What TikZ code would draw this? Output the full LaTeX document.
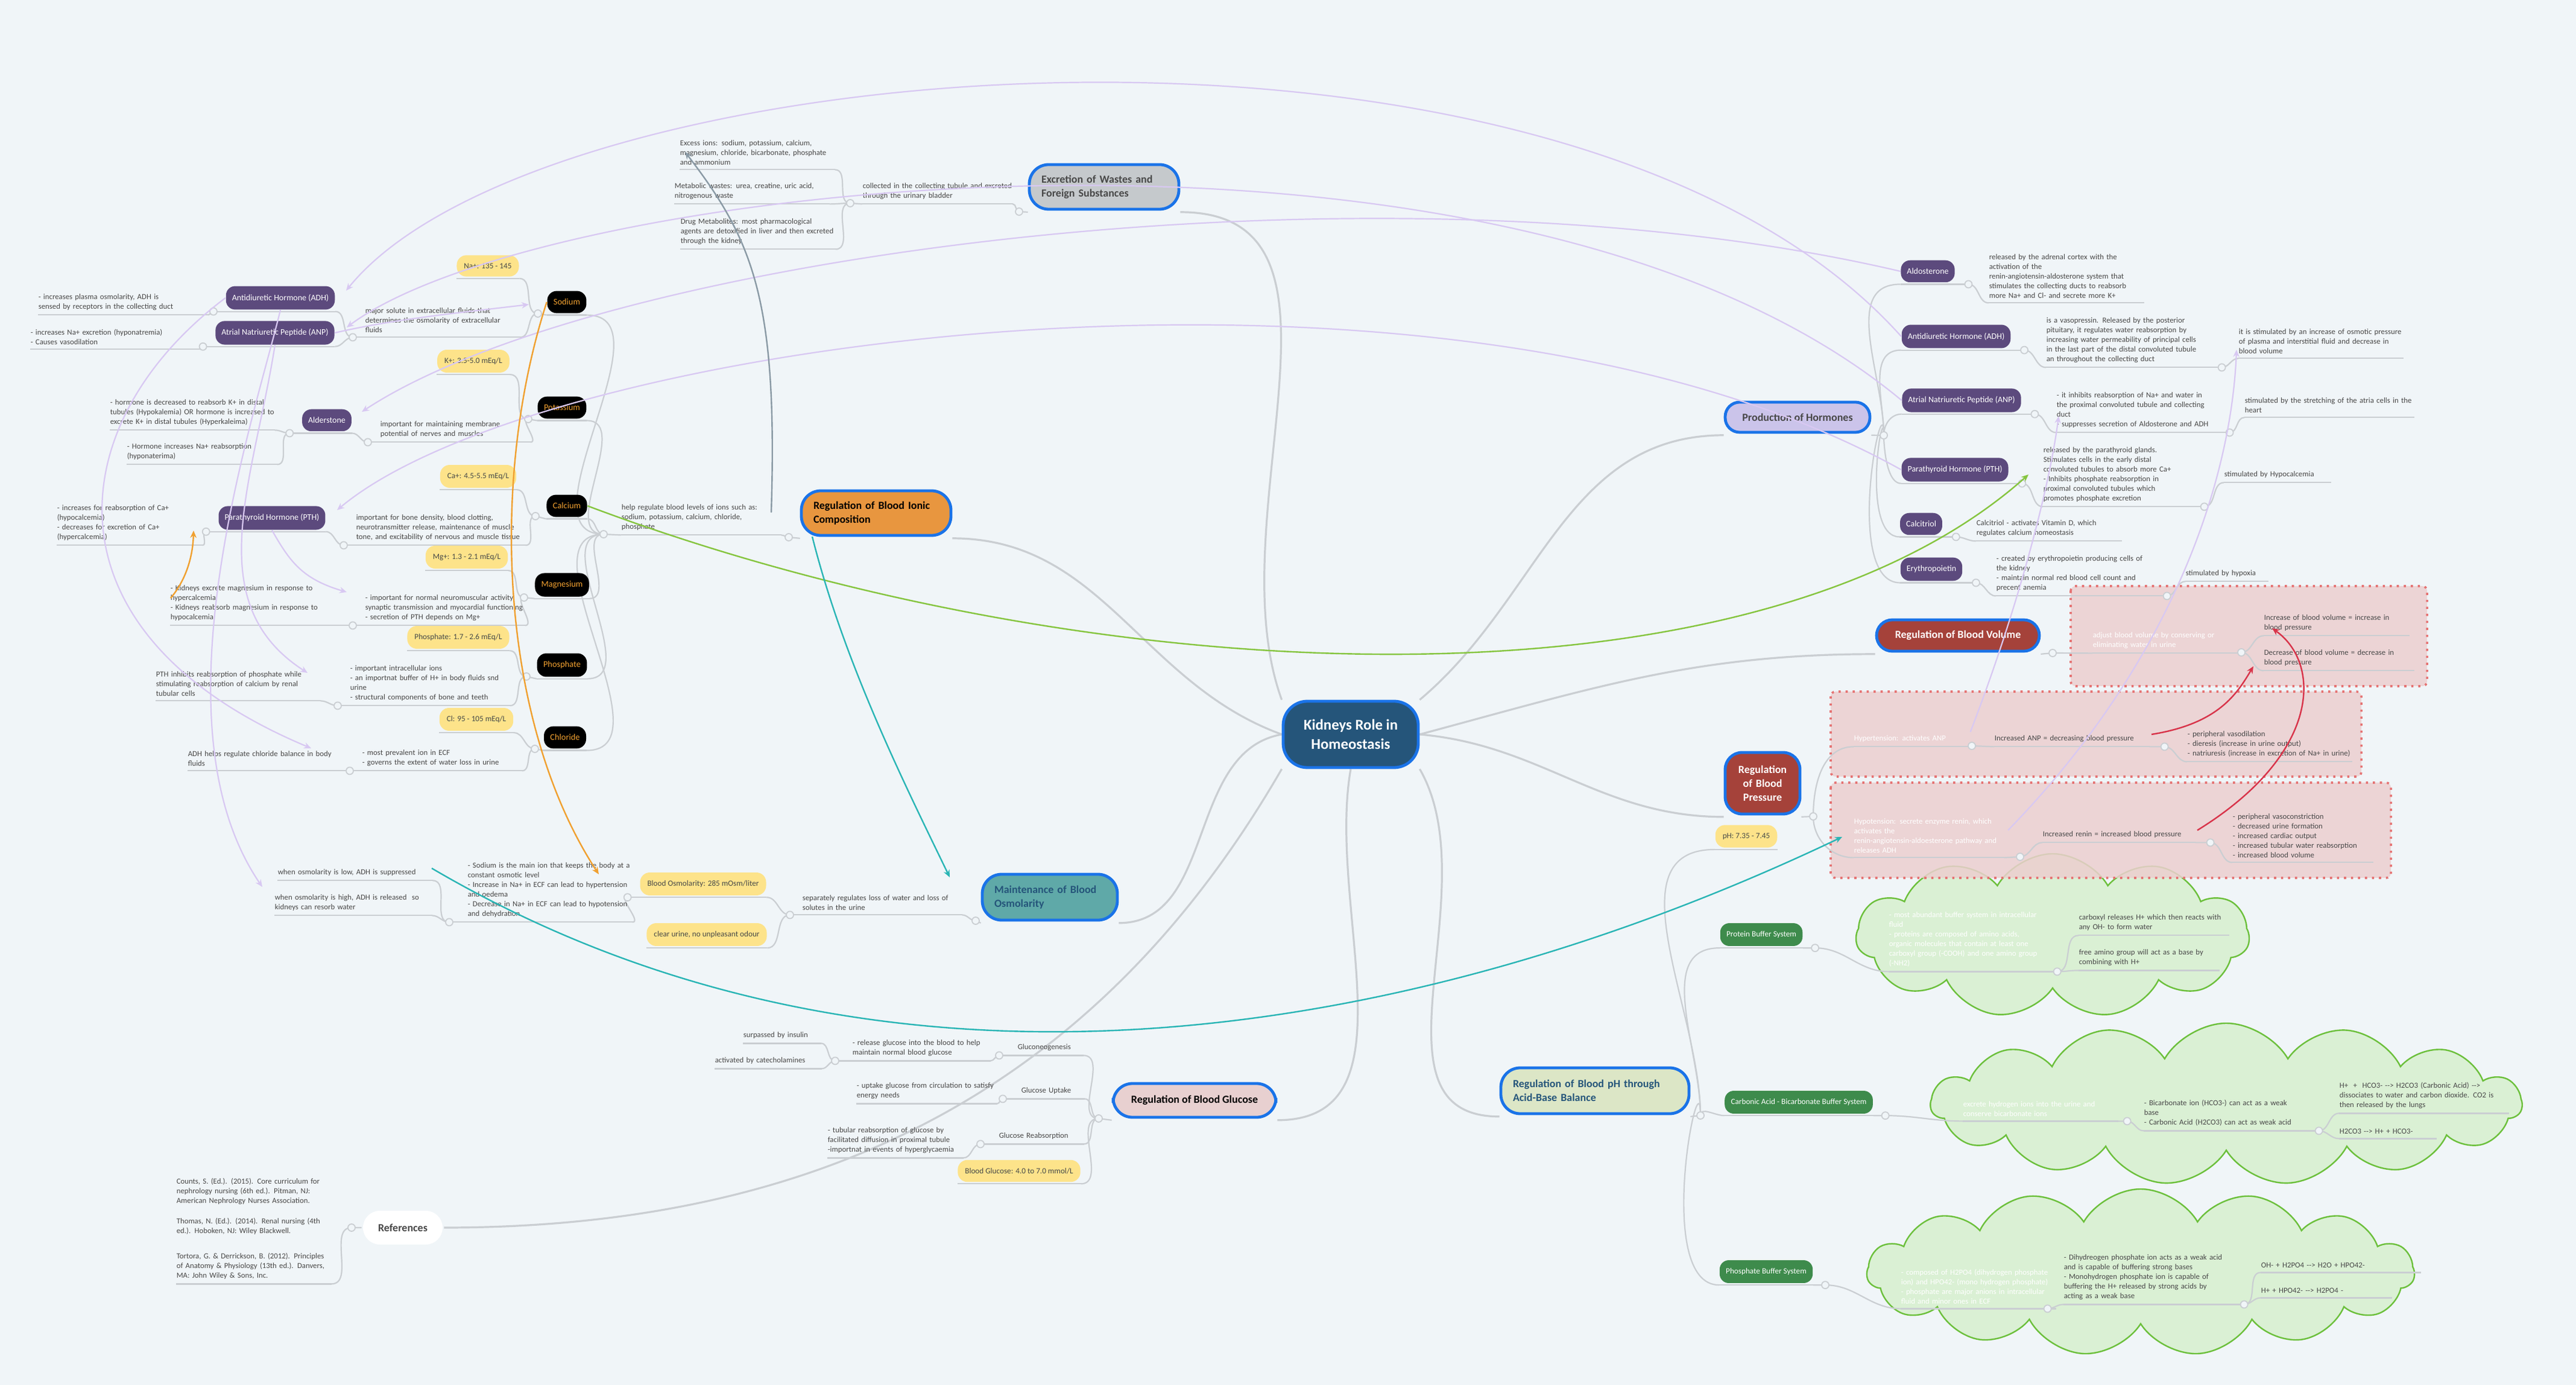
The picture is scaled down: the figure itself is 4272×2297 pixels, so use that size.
\documentclass[tikz,border=0pt]{standalone}
\usepackage{fontspec}
\setmainfont{Carlito}
\usetikzlibrary{shapes.symbols,arrows.meta}
\hyphenpenalty=10000
\exhyphenpenalty=10000
\definecolor{bg}{HTML}{F0F5F8}
\definecolor{txtc}{HTML}{484848}
\definecolor{linec}{HTML}{CACED2}
\definecolor{purp}{HTML}{5C4A7D}
\definecolor{orng}{HTML}{F0A030}
\definecolor{yel}{HTML}{FDE38A}
\definecolor{tb}{HTML}{1A73E8}
\definecolor{plc}{HTML}{D8C8F2}
\definecolor{grn}{HTML}{86C540}
\definecolor{tealc}{HTML}{2AB5B5}
\definecolor{redc}{HTML}{D8344A}
\definecolor{gblue}{HTML}{8A9AA5}
\definecolor{pinkf}{HTML}{ECCFCF}
\definecolor{pinkd}{HTML}{E57373}
\definecolor{cloudf}{HTML}{DAF0D4}
\definecolor{cloudd}{HTML}{6CC03C}
\definecolor{darkg}{HTML}{3E8B4C}
\definecolor{bvred}{HTML}{A5423A}
\definecolor{cnav}{HTML}{25557A}
\definecolor{excg}{HTML}{C5C9CC}
\definecolor{ionor}{HTML}{E8963F}
\definecolor{osmt}{HTML}{5FA9A8}
\definecolor{glup}{HTML}{E8D0D0}
\definecolor{horl}{HTML}{CBC4EA}
\definecolor{phg}{HTML}{DCE6C6}
\pgfdeclarelayer{bgl}
\pgfdeclarelayer{bgb}
\pgfsetlayers{bgb,bgl,main}
\newcommand\arr{-{}-{}>}
\tikzset{
 tx/.style={font=\fontsize{3.2}{4}\selectfont, text=txtc, align=left, inner xsep=0pt, inner ysep=1.2pt, anchor=south west},
 wt/.style={tx, text=white},
 ul/.style={draw=linec, line width=0.55pt},
 br/.style={draw=linec, line width=0.55pt},
 mainc/.style={draw=linec, line width=0.8pt},
 jc/.style={circle, draw=linec, fill=bg, line width=0.45pt, inner sep=0pt, minimum size=3pt},
 pill/.style={rounded corners=3.8pt, fill=purp, text=white, font=\fontsize{3.5}{4}\selectfont, inner xsep=2.5pt, minimum height=7.8pt},
 blk/.style={rounded corners=3.9pt, fill=black, text=orng, font=\fontsize{3.6}{4}\selectfont, inner xsep=2.6pt, minimum height=8pt},
 badge/.style={rounded corners=4pt, fill=yel, text=txtc, font=\fontsize{3.3}{4}\selectfont, inner xsep=3pt, minimum height=8.5pt},
 gpill/.style={rounded corners=3.8pt, fill=darkg, text=white, font=\fontsize{3.3}{4}\selectfont, inner xsep=2.6pt, minimum height=7.8pt},
 topic/.style={rounded corners=8pt, draw=tb, line width=1.2pt, font=\bfseries\fontsize{4.5}{5.8}\selectfont, align=left, inner xsep=5pt},
 pla/.style={draw=plc, line width=0.55pt, -{Stealth[length=3pt,width=2.6pt]}},
 xl/.style={line width=0.6pt, -{Stealth[length=3pt,width=2.6pt]}},
 pbox/.style={draw=pinkd, fill=pinkf, line width=0.9pt, dotted, rounded corners=2pt},
 cl/.style={cloud, draw=cloudd, fill=cloudf, line width=0.6pt, cloud puff arc=120},
}
\begin{document}
\begin{tikzpicture}[x=0.25pt,y=-0.25pt]
\begin{pgfonlayer}{bgb}
\fill[bg] (0,0) rectangle (4272,2297);
\end{pgfonlayer}
\useasboundingbox (0,0) rectangle (4272,2297);

% ===== central and topics
\node[topic, fill=cnav, text=white, align=center, font=\bfseries\fontsize{6.2}{8}\selectfont, minimum width=56pt, minimum height=27.5pt, rounded corners=10pt] (C) at (2240,1218) {Kidneys Role in\\Homeostasis};
\node[topic, fill=excg, text=txtc, minimum width=60pt, minimum height=18.5pt, text width=52pt] (exc) at (1831,310) {Excretion of Wastes and Foreign Substances};
\node[topic, fill=ionor, text=black, minimum width=61.5pt, minimum height=18.5pt, text width=52pt] (ion) at (1453,851) {Regulation of Blood Ionic Composition};
\node[topic, fill=osmt, text=cnav, minimum width=54.5pt, minimum height=19pt, text width=46pt] (osm) at (1741,1488) {Maintenance of Blood Osmolarity};
\node[topic, fill=glup, text=black, minimum width=67.5pt, minimum height=14pt] (glu) at (1981,1825) {Regulation of Blood Glucose};
\node[topic, fill=white, draw=none, text=txtc, minimum width=33pt, minimum height=14pt, rounded corners=7pt] (ref) at (668,2036) {References};
\node[topic, fill=horl, text=txtc, minimum width=60pt, minimum height=12.5pt, rounded corners=6pt] (hor) at (2981,692) {Production of Hormones};
\node[topic, fill=bvred, text=white, minimum width=67.5pt, minimum height=13pt, rounded corners=6.5pt] (bv) at (3247,1054) {Regulation of Blood Volume};
\node[topic, fill=bvred, text=white, minimum width=29.5pt, minimum height=25.5pt, text width=21pt, align=center, rounded corners=7pt] (bp) at (2923,1299) {Regulation of Blood Pressure};
\node[topic, fill=phg, text=cnav, minimum width=76pt, minimum height=19pt, text width=68pt] (ph) at (2645,1809) {Regulation of Blood pH through Acid-Base Balance};

% ===== ion elements
\node[blk] (na) at (940,501) {Sodium};
\node[blk] (k) at (932,676) {Potassium};
\node[blk] (ca) at (940,839) {Calcium};
\node[blk] (mg) at (932,970) {Magnesium};
\node[blk] (p) at (932,1103) {Phosphate};
\node[blk] (cl) at (937,1223) {Chloride};
\node[badge] (bna) at (809,441) {Na+: 135 - 145};
\node[badge] (bk) at (785,599) {K+: 3.5-5.0 mEq/L};
\node[badge] (bca) at (793,790) {Ca+: 4.5-5.5 mEq/L};
\node[badge] (bmg) at (774,924) {Mg+: 1.3 - 2.1 mEq/L};
\node[badge] (bp2) at (760,1057) {Phosphate: 1.7 - 2.6 mEq/L};
\node[badge] (bcl) at (790,1193) {Cl: 95 - 105 mEq/L};
\node[tx, text width=66pt] (dion) at (1030,885) {help regulate blood levels of ions such as:\\sodium, potassium, calcium, chloride,\\phosphate};
\node[tx, text width=64pt] (dna) at (605,557) {major solute in extracellular fluids that determines the osmolarity of extracellular fluids};
\node[tx, text width=62pt] (dk) at (630,731) {important for maintaining membrane potential of nerves and muscles};
\node[tx, text width=70pt] (dca) at (590,902) {important for bone density, blood clotting, neurotransmitter release, maintenance of muscle tone, and excitability of nervous and muscle tissue};
\node[tx, text width=66pt] (dmg) at (605,1035) {- important for normal neuromuscular activity, synaptic transmission and myocardial functioning\\- secretion of PTH depends on Mg+};
\node[tx, text width=66pt] (dp) at (580,1168) {- important intracellular ions\\- an importnat buffer of H+ in body fluids snd urine\\- structural components of bone and teeth};
\node[tx, text width=66pt] (dcl) at (600,1276) {- most prevalent ion in ECF\\- governs the extent of water loss in urine};
\node[pill] (ladh) at (465,494) {Antidiuretic Hormone (ADH)};
\node[pill] (lanp) at (456,552) {Atrial Natriuretic Peptide (ANP)};
\node[pill] (lald) at (542,697) {Alderstone};
\node[pill] (lpth) at (451,859) {Parathyroid Hormone (PTH)};
\node[tx, text width=70pt] (na1) at (63,520) {- increases plasma osmolarity, ADH is\\sensed by receptors in the collecting duct};
\node[tx, text width=70pt] (na2) at (50,577) {- increases Na+ excretion (hyponatremia)\\- Causes vasodilation};
\node[tx, text width=68pt] (na3) at (182,711) {- hormone is decreased to reabsorb K+ in distal tubules (Hypokalemia) OR hormone is increased to excrete K+ in distal tubules (Hyperkaleima)};
\node[tx, text width=62pt] (na4) at (210,768) {- Hormone increases Na+ reabsorption (hyponaterima)};
\node[tx, text width=60pt] (na5) at (94,902) {- increases for reabsorption of Ca+ (hypocalcemia)\\- decreases for excretion of Ca+ (hypercalcemia)};
\node[tx, text width=68pt] (na6) at (282,1035) {- Kidneys excrete magnesium in response to hypercalcemia\\- Kidneys reabsorb magnesium in response to hypocalcemia};
\node[tx, text width=68pt] (na7) at (258,1160) {PTH inhibits reabsorption of phosphate while stimulating reabsorption of calcium by renal tubular cells};
\node[tx, text width=60pt] (na8) at (311,1276) {ADH helps regulate chloride balance in body fluids};

% ===== excretion
\node[tx, text width=64pt] (ea) at (1127,279) {Excess ions: sodium, potassium, calcium, magnesium, chloride, bicarbonate, phosphate and ammonium};
\node[tx, text width=64pt] (eb) at (1118,336) {Metabolic wastes: urea, creatine, uric acid, nitrogenous waste};
\node[tx, text width=64pt] (ec) at (1128,411) {Drug Metabolites: most pharmacological agents are detoxified in liver and then excreted through the kidney};
\node[tx, text width=62pt] (ed) at (1430,336) {collected in the collecting tubule and excreted through the urinary bladder};

% ===== osmolarity
\node[tx, text width=66pt] (osep) at (1330,1515) {separately regulates loss of water and loss of solutes in the urine};
\node[badge] (bo) at (1166,1466) {Blood Osmolarity: 285 mOsm/liter};
\node[badge] (bcu) at (1172,1550) {clear urine, no unpleasant odour};
\node[tx, text width=68pt] (sos) at (775,1527) {- Sodium is the main ion that keeps the body at a constant osmotic level\\- Increase in Na+ in ECF can lead to hypertension and oedema\\- Decrease in Na+ in ECF can lead to hypotension and dehydration};
\node[tx, text width=64pt] (olow) at (460,1458) {when osmolarity is low, ADH is suppressed};
\node[tx, text width=65pt] (ohigh) at (455,1516) {when osmolarity is high, ADH is released\ \ so kidneys can resorb water};

% ===== glucose
\node[tx, text width=27pt] (ggl) at (1687,1748) {Gluconeogenesis};
\node[tx, text width=26pt] (gup) at (1693,1820) {Glucose Uptake};
\node[tx, text width=35pt] (gre) at (1656,1895) {Glucose Reabsorption};
\node[badge] (bgl) at (1690,1942) {Blood Glucose: 4.0 to 7.0 mmol/L};
\node[tx, text width=57pt] (grel) at (1413,1757) {- release glucose into the blood to help maintain normal blood glucose};
\node[tx, text width=32pt] (gins) at (1232,1728) {surpassed by insulin};
\node[tx, text width=44pt] (gcat) at (1185,1770) {activated by catecholamines};
\node[tx, text width=58pt] (gupt) at (1420,1828) {- uptake glucose from circulation to satisfy energy needs};
\node[tx, text width=56pt] (grea) at (1372,1918) {- tubular reabsorption of glucose by facilitated diffusion in proximal tubule\\-importnat in events of hyperglycaemia};

% ===== references
\node[tx, text width=64pt] (r1) at (292,2003) {Counts, S. (Ed.). (2015). Core curriculum for nephrology nursing (6th ed.). Pitman, NJ: American Nephrology Nurses Association.};
\node[tx, text width=64pt] (r2) at (292,2053) {Thomas, N. (Ed.). (2014). Renal nursing (4th ed.). Hoboken, NJ: Wiley Blackwell.};
\node[tx, text width=64pt] (r3) at (292,2127) {Tortora, G. \& Derrickson, B. (2012). Principles of Anatomy \& Physiology (13th ed.). Danvers, MA: John Wiley \& Sons, Inc.};

% ===== right hormones
\node[pill] (rald) at (3197,450) {Aldosterone};
\node[pill] (radh) at (3244,558) {Antidiuretic Hormone (ADH)};
\node[pill] (ranp) at (3253,664) {Atrial Natriuretic Peptide (ANP)};
\node[pill] (rpth) at (3242,779) {Parathyroid Hormone (PTH)};
\node[pill] (rcal) at (3186,869) {Calcitriol};
\node[pill] (rery) at (3203,944) {Erythropoietin};
\node[tx, text width=64pt] (hald) at (3298,500) {released by the adrenal cortex with the activation of the\\renin-angiotensin-aldosterone system that stimulates the collecting ducts to reabsorb more Na+ and Cl- and secrete more K+};
\node[tx, text width=66pt] (hadh) at (3393,607) {is a vasopressin. Released by the posterior pituitary, it regulates water reabsorption by increasing water permeability of principal cells in the last part of the distal convoluted tubule an throughout the collecting duct};
\node[tx, text width=68pt] (hadh2) at (3712,592) {it is stimulated by an increase of osmotic pressure of plasma and interstitial fluid and decrease in blood volume};
\node[tx, text width=65pt] (hanp) at (3410,715) {- it inhibits reabsorption of Na+ and water in the proximal convoluted tubule and collecting duct\\- suppresses secretion of Aldosterone and ADH};
\node[tx, text width=70pt] (hanp2) at (3722,690) {stimulated by the stretching of the atria cells in the heart};
\node[tx, text width=60pt] (hpth) at (3388,838) {released by the parathyroid glands. Stimulates cells in the early distal convoluted tubules to absorb more Ca+\\- Inhibits phosphate reabsorption in proximal convoluted tubules which promotes phosphate excretion};
\node[tx, text width=44pt] (hpth2) at (3688,798) {stimulated by Hypocalcemia};
\node[tx, text width=60pt] (hcal) at (3277,895) {Calcitriol - activates Vitamin D, which regulates calcium homeostasis};
\node[tx, text width=64pt] (hery) at (3310,986) {- created by erythropoietin producing cells of the kidney\\- maintain normal red blood cell count and precent anemia};
\node[tx, text width=34pt] (hery2) at (3624,962) {stimulated by hypoxia};

% ===== clouds and pink boxes (background)
\begin{pgfonlayer}{bgb}
\node[cl, minimum width=163pt, minimum height=68pt, cloud puffs=11, aspect=2.4] at (3404,1552) {};
\node[cl, minimum width=245pt, minimum height=67pt, cloud puffs=15, aspect=3.6] at (3692,1831) {};
\node[cl, minimum width=227pt, minimum height=69pt, cloud puffs=15, aspect=3.3] at (3550,2110) {};
\draw[pbox, fill opacity=0.85] (3434,972) rectangle (4025,1138);
\draw[pbox, fill opacity=0.85] (3036,1147) rectangle (3916,1288);
\draw[pbox, fill opacity=0.85] (3036,1298) rectangle (3965,1456);
\end{pgfonlayer}

% ===== blood volume / pressure texts
\node[wt, text width=60pt] (vadj) at (3470,1081) {adjust blood volume by conserving or eliminating water in urine};
\node[tx, text width=60pt] (vinc) at (3754,1052) {Increase of blood volume = increase in blood pressure};
\node[tx, text width=62pt] (vdec) at (3754,1110) {Decrease of blood volume = decrease in blood pressure};
\node[wt, text width=48pt] (ahyp) at (3074,1236) {Hypertension: activates ANP};
\node[tx, text width=64pt] (ainc) at (3307,1236) {Increased ANP = decreasing blood pressure};
\node[tx, text width=68pt] (alis) at (3627,1261) {- peripheral vasodilation\\- dieresis (increase in urine output)\\- natriuresis (increase in excretion of Na+ in urine)};
\node[wt, text width=62pt] (rhyp) at (3074,1420) {Hypotension: secrete enzyme renin, which activates the\\renin-angiotensin-aldoesterone pathway and releases ADH};
\node[tx, text width=63pt] (rinc) at (3387,1395) {Increased renin = increased blood pressure};
\node[tx, text width=58pt] (rlis) at (3702,1428) {- peripheral vasoconstriction\\- decreased urine formation\\- increased cardiac output\\- increased tubular water reabsorption\\- increased blood volume};

% ===== pH
\node[badge] (bph) at (2896,1387) {pH: 7.35 - 7.45};
\node[gpill] (gprot) at (2921,1550) {Protein Buffer System};
\node[gpill] (gcarb) at (2983,1828) {Carbonic Acid - Bicarbonate Buffer System};
\node[gpill] (gphos) at (2929,2109) {Phosphate Buffer System};
\node[wt, text width=64pt] (c1w) at (3132,1609) {- most abundant buffer system in intracellular fluid\\- proteins are composed of amino acids, organic molecules that contain at least one carboxyl group (-COOH) and one amino group (-NH2)};
\node[tx, text width=62pt] (c1a) at (3447,1549) {carboxyl releases H+ which then reacts with any OH- to form water};
\node[tx, text width=58pt] (c1b) at (3447,1607) {free amino group will act as a base by combining with H+};
\node[wt, text width=64pt] (c2w) at (3255,1857) {excrete hydrogen ions into the urine and conserve bicarbonate ions};
\node[tx, text width=66pt] (c2a) at (3555,1873) {- Bicarbonate ion (HCO3-) can act as a weak base\\- Carbonic Acid (H2CO3) can act as weak acid};
\node[tx, text width=70pt] (c2b) at (3879,1844) {H+\ \ +\ \ HCO3- \arr\ H2CO3 (Carbonic Acid) \arr\ dissociates to water and carbon dioxide. CO2 is then released by the lungs};
\node[tx, text width=40pt] (c2c) at (3879,1886) {H2CO3 \arr\ H+ + HCO3-};
\node[wt, text width=64pt] (c3w) at (3152,2168) {- composed of H2PO4 (dihydrogen phosphate ion) and HPO42- (mono hydrogen phosphate)\\- phosphate are major anions in intracellular fluid and minor ones in ECF};
\node[tx, text width=68pt] (c3a) at (3422,2161) {- Dihydreogen phosphate ion acts as a weak acid and is capable of buffering strong bases\\- Monohydrogen phosphate ion is capable of buffering the H+ released by strong acids by acting as a weak base};
\node[tx, text width=66pt] (c3b) at (3749,2108) {OH- + H2PO4 \arr\ H2O + HPO42-};
\node[tx, text width=54pt] (c3c) at (3749,2150) {H+ + HPO42- \arr\ H2PO4 -};

% ===== connectors (background layer)
\begin{pgfonlayer}{bgl}
\foreach \n in {dion,dna,dk,dca,dmg,dp,dcl,na1,na2,na3,na4,na5,na6,na7,na8,ea,eb,ec,ed,osep,sos,olow,ohigh,ggl,gup,gre,grel,gins,gcat,gupt,grea,r3,hald,hadh,hadh2,hanp,hanp2,hpth,hpth2,hcal,hery,hery2,vadj,vinc,vdec,ahyp,ainc,alis,rhyp,rinc,rlis,c1w,c1a,c1b,c2w,c2a,c2b,c2c,c3w,c3a,c3b,c3c,na,k,ca,mg,p,cl,bna,bk,bca,bmg,bp2,bcl,ladh,lanp,lald,lpth,bo,bcu,bgl,rald,radh,ranp,rpth,rcal,rery,bph,gprot,gcarb,gphos}
  \draw[ul] ([yshift=-0.6pt]\n.south west) -- ([yshift=-0.6pt]\n.south east);
% main from center
\draw[mainc] (C.north west) to[out=110,in=0] ([yshift=-0.6pt]exc.south east);
\draw[mainc] (C.west) to[out=160,in=0] ([yshift=-0.6pt]ion.south east);
\draw[mainc] (C.west) to[out=190,in=0] ([yshift=-0.6pt]osm.south east);
\draw[mainc] (C.south) to[out=260,in=0] ([yshift=-0.6pt]glu.south east);
\draw[mainc] (C.south west) to[out=240,in=0] (ref.east);
\draw[mainc] (C.north east) to[out=40,in=180] ([yshift=-0.6pt]hor.south west);
\draw[mainc] (C.east) to[out=15,in=180] ([yshift=-0.6pt]bv.south west);
\draw[mainc] (C.east) to[out=-5,in=180] ([yshift=-0.6pt]bp.south west);
\draw[mainc] (C.south east) to[out=-60,in=180] ([yshift=-0.6pt]ph.south west);
% excretion
\coordinate (jexc) at (1690,351);
\draw[br] ([yshift=-0.6pt]exc.south west) -- (jexc) to[out=180,in=0] ([yshift=-0.6pt]ed.south east);
\coordinate (jed) at (1410,337);
\draw[br] ([yshift=-0.6pt]ed.south west) -- (jed);
\foreach \n in {ea,eb,ec} \draw[br] (jed) to[out=180,in=0] ([yshift=-0.6pt]\n.south east);
% ion
\coordinate (jion) at (1308,891);
\draw[br] ([yshift=-0.6pt]ion.south west) -- (jion) to[out=180,in=0] ([yshift=-0.6pt]dion.south east);
\coordinate (jion2) at (1001,886);
\draw[br] ([yshift=-0.6pt]dion.south west) -- (jion2);
\foreach \n/\j/\d/\b/\h/\jx/\jy in {na/jna/dna/bna/ladh/892/520, k/jk/dk/bk/lald/876/695, ca/jca/dca/bca/lpth/888/856, mg/jmg/dmg/bmg/na6/869/991, p/jp/dp/bp2/na7/873/1122, cl/jcl/dcl/bcl/na8/887/1242}{
  \draw[br] (jion2) to[out=180,in=0] ([yshift=-0.6pt]\n.south east);
  \coordinate (\j) at (\jx,\jy);
  \draw[br] ([yshift=-0.6pt]\n.south west) -- (\j);
  \draw[br] (\j) to[out=180,in=0] ([yshift=-0.6pt]\b.south east);
  \draw[br] (\j) to[out=180,in=0] ([yshift=-0.6pt]\d.south east);
  \draw[br] ([yshift=-0.6pt]\d.south west) -- ++(-20,0) coordinate (\j d);
  \draw[br] (\j d) to[out=180,in=0] ([yshift=-0.6pt]\h.south east);
}
\draw[br] (jnad) to[out=180,in=0] ([yshift=-0.6pt]lanp.south east);
\foreach \a/\b/\c in {ladh/jla/na1, lanp/jlb/na2, lald/jlc/na3, lpth/jld/na5}{
  \draw[br] ([yshift=-0.6pt]\a.south west) -- ++(-20,0) coordinate (\b);
  \draw[br] (\b) to[out=180,in=0] ([yshift=-0.6pt]\c.south east);
}
\draw[br] (jlc) to[out=180,in=0] ([yshift=-0.6pt]na4.south east);
% osmolarity
\coordinate (josm) at (1618,1527);
\draw[br] ([yshift=-0.6pt]osm.south west) -- (josm) to[out=180,in=0] ([yshift=-0.6pt]osep.south east);
\draw[br] ([yshift=-0.6pt]osep.south west) -- ++(-20,0) coordinate (jsep);
\draw[br] (jsep) to[out=180,in=0] ([yshift=-0.6pt]bo.south east);
\draw[br] (jsep) to[out=180,in=0] ([yshift=-0.6pt]bcu.south east);
\draw[br] ([yshift=-0.6pt]bo.south west) -- ++(-20,0) coordinate (jbo);
\draw[br] (jbo) to[out=180,in=0] ([yshift=-0.6pt]sos.south east);
\draw[br] ([yshift=-0.6pt]sos.south west) -- ++(-30,0) coordinate (jsos);
\draw[br] (jsos) to[out=180,in=0] ([yshift=-0.6pt]olow.south east);
\draw[br] (jsos) to[out=180,in=0] ([yshift=-0.6pt]ohigh.south east);
% glucose
\coordinate (jglu) at (1822,1855);
\draw[br] ([yshift=-0.6pt]glu.south west) -- (jglu);
\foreach \n in {ggl,gup,gre,bgl} \draw[br] (jglu) to[out=180,in=0] ([yshift=-0.6pt]\n.south east);
\foreach \a/\b/\c in {ggl/jg1/grel, gup/jg2/gupt, gre/jg3/grea}{
  \draw[br] ([yshift=-0.6pt]\a.south west) -- ++(-30,0) coordinate (\b);
  \draw[br] (\b) to[out=180,in=0] ([yshift=-0.6pt]\c.south east);
}
\draw[br] ([yshift=-0.6pt]grel.south west) -- ++(-28,0) coordinate (jrel);
\draw[br] (jrel) to[out=180,in=0] ([yshift=-0.6pt]gins.south east);
\draw[br] (jrel) to[out=180,in=0] ([yshift=-0.6pt]gcat.south east);
% references
\coordinate (jref) at (583,2036);
\draw[br] (ref.west) -- (jref) to[out=180,in=0] ([yshift=-0.6pt]r3.south east);
% hormones
\coordinate (jhor) at (3124,722);
\draw[br] ([yshift=-0.6pt]hor.south east) -- (jhor);
\foreach \n in {rald,radh,ranp,rpth,rcal,rery} \draw[br] (jhor) to[out=90,in=180] ([yshift=-0.6pt]\n.south west);
\foreach \a/\b/\c in {rald/jh1/hald, radh/jh2/hadh, ranp/jh3/hanp, rpth/jh4/hpth, rcal/jh5/hcal, rery/jh6/hery}{
  \draw[br] ([yshift=-0.6pt]\a.south east) -- ++(22,0) coordinate (\b);
  \draw[br] (\b) to[out=0,in=180] ([yshift=-0.6pt]\c.south west);
}
\foreach \a/\b/\c in {hadh/jk2/hadh2, hanp/jk3/hanp2, hpth/jk4/hpth2, hery/jk6/hery2}{
  \draw[br] ([yshift=-0.6pt]\a.south east) -- ++(26,0) coordinate (\b);
  \draw[br] (\b) to[out=0,in=180] ([yshift=-0.6pt]\c.south west);
}
% blood volume
\coordinate (jbv) at (3404,1083);
\draw[br] ([yshift=-0.6pt]bv.south east) -- (jbv) -- ([yshift=-0.6pt]vadj.south west);
\draw[br] ([yshift=-0.6pt]vadj.south east) -- (3717,1082) coordinate (jbv2);
\draw[br] (jbv2) to[out=0,in=180] ([yshift=-0.6pt]vinc.south west);
\draw[br] (jbv2) to[out=0,in=180] ([yshift=-0.6pt]vdec.south west);
% blood pressure
\coordinate (jbp) at (3007,1354);
\draw[br] ([yshift=-0.6pt]bp.south east) -- (jbp);
\draw[br] (jbp) to[out=90,in=180] ([yshift=-0.6pt]ahyp.south west);
\draw[br] (jbp) to[out=-90,in=180] ([yshift=-0.6pt]rhyp.south west);
\draw[br] ([yshift=-0.6pt]ahyp.south east) -- (3270,1237) coordinate (ja1) -- ([yshift=-0.6pt]ainc.south west);
\draw[br] ([yshift=-0.6pt]ainc.south east) -- ++(25,0) coordinate (ja2) to[out=0,in=180] ([yshift=-0.6pt]alis.south west);
\draw[br] ([yshift=-0.6pt]rhyp.south east) -- (3350,1421) coordinate (jr1) to[out=0,in=180] ([yshift=-0.6pt]rinc.south west);
\draw[br] ([yshift=-0.6pt]rinc.south east) -- ++(25,0) coordinate (jr2) to[out=0,in=180] ([yshift=-0.6pt]rlis.south west);
% pH
\coordinate (jph) at (2820,1850);
\draw[br] ([yshift=-0.6pt]ph.south east) -- (jph);
\foreach \n in {bph,gprot,gcarb,gphos} \draw[br] (jph) to[out=90,in=180] ([yshift=-0.6pt]\n.south west);
\draw[br] ([yshift=-0.6pt]gprot.south east) -- ++(20,0) coordinate (jp1) to[out=0,in=180] ([yshift=-0.6pt]c1w.south west);
\draw[br] ([yshift=-0.6pt]gcarb.south east) -- ++(20,0) coordinate (jp2) to[out=0,in=180] ([yshift=-0.6pt]c2w.south west);
\draw[br] ([yshift=-0.6pt]gphos.south east) -- ++(20,0) coordinate (jp3) to[out=0,in=180] ([yshift=-0.6pt]c3w.south west);
\draw[br] ([yshift=-0.6pt]c1w.south east) -- ++(22,0) coordinate (jc1);
\draw[br] (jc1) to[out=0,in=180] ([yshift=-0.6pt]c1a.south west);
\draw[br] (jc1) to[out=0,in=180] ([yshift=-0.6pt]c1b.south west);
\draw[br] ([yshift=-0.6pt]c2w.south east) -- ++(15,0) coordinate (jc2) to[out=0,in=180] ([yshift=-0.6pt]c2a.south west);
\draw[br] ([yshift=-0.6pt]c2a.south east) -- ++(25,0) coordinate (jc2b);
\draw[br] (jc2b) to[out=0,in=180] ([yshift=-0.6pt]c2b.south west);
\draw[br] (jc2b) to[out=0,in=180] ([yshift=-0.6pt]c2c.south west);
\draw[br] ([yshift=-0.6pt]c3w.south east) -- ++(-14,0) coordinate (jc3) to[out=0,in=180] ([yshift=-0.6pt]c3a.south west);
\draw[br] ([yshift=-0.6pt]c3a.south east) -- ++(26,0) coordinate (jc3b);
\draw[br] (jc3b) to[out=0,in=180] ([yshift=-0.6pt]c3b.south west);
\draw[br] (jc3b) to[out=0,in=180] ([yshift=-0.6pt]c3c.south west);
% junction circles
\foreach \j in {jexc,jed,jion,jion2,jna,jk,jca,jmg,jp,jcl,jnad,jkd,jcad,jmgd,jpd,jcld,jla,jlb,jlc,jld,josm,jsep,jbo,jsos,jglu,jg1,jg2,jg3,jrel,jref,jhor,jh1,jh2,jh3,jh4,jh5,jh6,jk2,jk3,jk4,jk6,jbv,jbv2,jbp,ja1,ja2,jr1,jr2,jph,jp1,jp2,jp3,jc1,jc2,jc2b,jc3,jc3b}
  \node[jc] at (\j) {};
\end{pgfonlayer}

% ===== cross links
\draw[pla] (rald.west) .. controls (2300,250) and (1000,420) .. (600,683);
\draw[pla] (radh.west) .. controls (2600,-60) and (900,80) .. (574,482);
\draw[pla] (ranp.west) .. controls (2500,120) and (900,300) .. (575,543);
\draw[pla] (rpth.west) .. controls (2400,360) and (900,560) .. (559,846);
\draw[pla] (lanp.east) .. controls (650,530) and (750,520) .. (877,505);
\draw[pla] (ladh.south) .. controls (420,700) and (250,1200) .. (435,1471);
\draw[pla] (lpth.south) .. controls (480,930) and (500,960) .. (575,982);
\draw[pla] (lanp.south) .. controls (420,800) and (330,1000) .. (510,1116);
\draw[pla] (ladh.west) .. controls (100,700) and (60,1050) .. (516,1241);
\draw[pla] (ahyp.north east) .. controls (3350,1000) and (3400,800) .. (3414,690);
\draw[pla] (3330,1377) .. controls (3600,1100) and (3700,800) .. (3709,580);
\draw[xl, draw=orng] (na.west) .. controls (810,800) and (830,1200) .. (993,1450);
\draw[xl, draw=orng] (283,992) .. controls (310,960) and (320,920) .. (321,880);
\draw[xl, draw=grn] (ca.east) .. controls (1800,1150) and (2900,1200) .. (3364,787);
\draw[xl, draw=tealc] (1347,890) .. controls (1400,1100) and (1500,1300) .. (1575,1455);
\draw[xl, draw=tealc] (716,1440) .. controls (1500,1900) and (2400,1700) .. (3055,1388);
\draw[xl, draw=gblue] (1279,850) .. controls (1290,500) and (1250,400) .. (1136,252);
\draw[xl, draw=redc] (3568,1218) .. controls (3680,1200) and (3710,1150) .. (3737,1105);
\draw[xl, draw=redc] (3644,1377) .. controls (3850,1250) and (3850,1100) .. (3768,1042);
\end{tikzpicture}
\end{document}
